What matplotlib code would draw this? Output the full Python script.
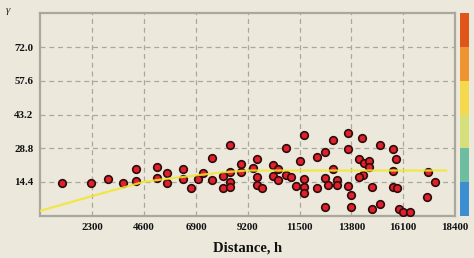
import matplotlib
matplotlib.use("Agg")
import matplotlib.pyplot as plt
from matplotlib.colors import ListedColormap, BoundaryNorm
import numpy as np

# Experimental variogram points (distance h, gamma)
dist = [940, 2230, 3010, 3680, 4230, 4230, 5160, 5160, 5600, 5600,
        6310, 6310, 6680, 6980, 7230, 7600, 7600, 8110, 8110, 8400,
        8400, 8400, 8400, 8890, 8890, 9420, 9620, 9620, 9620, 9820,
        10300, 10300, 10550, 10550, 10900, 10900, 11120, 11340, 11520, 11700,
        11700, 11700, 11700, 12260, 12260, 12630, 12970, 12970, 12630, 12780,
        13150, 13150, 12630, 13640, 13640, 13640, 13790, 13790, 14290, 14150,
        14340, 14600, 14600, 14310, 14150, 14710, 14710, 15070, 15070, 15630,
        15780, 15630, 15630, 15810, 15930, 16110, 16400, 17220, 17520, 17170]
gamma = [13.8, 13.8, 15.7, 13.8, 19.8, 14.8, 20.7, 16.0, 18.1, 13.8,
         20.0, 15.8, 12.0, 15.6, 18.1, 24.8, 15.3, 17.1, 11.7, 30.3,
         18.8, 14.5, 12.3, 22.1, 18.8, 20.3, 24.1, 16.7, 13.1, 11.7,
         21.7, 17.0, 19.8, 15.3, 28.8, 17.4, 16.7, 12.7, 23.5, 34.5,
         15.7, 12.4, 9.6, 25.0, 11.7, 27.0, 32.4, 19.8, 16.0, 13.1,
         15.3, 13.1, 3.6, 35.3, 28.4, 12.7, 8.8, 3.6, 33.1, 24.1,
         22.4, 23.4, 20.7, 17.4, 16.7, 12.4, 2.8, 30.3, 5.0, 28.4,
         24.1, 19.1, 12.4, 11.7, 2.8, 1.6, 1.6, 18.6, 14.5, 7.8]

# Fitted model line
model_h = [0, 2300, 4600, 5750, 6900, 8050, 9200, 18000]
model_g = [2.1, 8.4, 14.5, 15.9, 17.2, 18.5, 19.3, 19.3]

xticks = [2300, 4600, 6900, 9200, 11500, 13800, 16100, 18400]
yticks = [14.4, 28.8, 43.2, 57.6, 72.0]
ytick_labels = ["14.4", "28.8", "43.2", "57.6", "72.0"]

cbar_colors = ["#3b8fd0", "#6dbea0", "#d6e07a", "#f5d84c", "#ee9431", "#e0561a"]
cbar_bounds = [0, 14.4, 28.8, 43.2, 57.6, 72.0, 86.4]

bg = "#ece9dc"
fig = plt.figure(figsize=(4.74, 2.58), dpi=100, facecolor=bg)
ax = fig.add_axes([0.0854, 0.164, 0.8746, 0.784], facecolor=bg)

ax.set_xlim(0, 18400)
ax.set_ylim(0, 86.4)

ax.grid(True, color="#aaa79d", linestyle=(0, (4, 3)), linewidth=0.9)
ax.set_axisbelow(True)
for s in ax.spines.values():
    s.set_color("#aaa79c")
    s.set_linewidth(1.6)

ax.scatter(dist, gamma, s=30, c="#e3202a", edgecolors="#2a0d0d",
           linewidths=1.2, zorder=3)
ax.plot(model_h, model_g, color="#f2e62e", linewidth=1.6, alpha=0.85, zorder=4)

tfont = dict(family="Liberation Serif", weight="bold", size=7.8)
ax.set_xticks(xticks)
ax.set_xticklabels([str(t) for t in xticks], **tfont)
ax.set_yticks(yticks)
ax.set_yticklabels(ytick_labels, **tfont)
ax.tick_params(length=0, pad=5, colors="#111111")

ax.set_xlabel("Distance, h", family="Liberation Serif", weight="bold",
              size=10.5, labelpad=7, color="#111111")
fig.text(0.012, 0.96, "γ", family="Liberation Serif", style="italic",
         size=8, color="#222222", ha="left", va="center")

cax = fig.add_axes([0.970, 0.164, 0.017, 0.784])
cmap = ListedColormap(cbar_colors)
norm = BoundaryNorm(cbar_bounds, cmap.N)
cax.imshow(np.array(cbar_bounds[:-1]).reshape(-1, 1) + 1, cmap=cmap, norm=norm,
           aspect="auto", origin="lower", extent=[0, 1, 0, 86.4])
cax.set_axis_off()

fig.savefig("out.png", dpi=100, facecolor=bg)
